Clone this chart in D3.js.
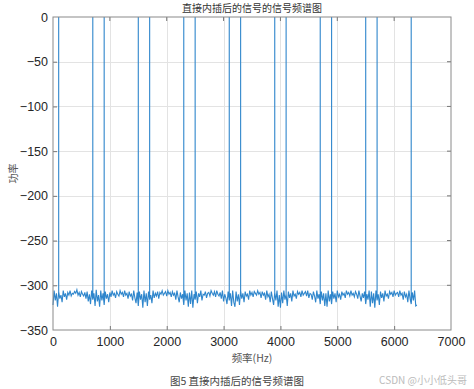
<!DOCTYPE html>
<html>
<head>
<meta charset="utf-8">
<script src="https://cdn.jsdelivr.net/npm/d3@7"></script>
<style>
  body { margin: 0; background: #fff; }
  svg { display: block; }
</style>
</head>
<body>
<svg id="chart" width="474" height="389"></svg>
<script>
"use strict";

// noise floor, one value every 20 Hz from 0 to 6400 Hz
var floorStep = 20;
var floorDb = [
  -322, -306, -317, -309, -324, -307, -315, -311, -319, -306, -313, -309, -316, -308, -311, -306, -312, -309, -310, -307,
  -309, -305, -311, -308, -313, -307, -310, -312, -308, -315, -307, -318, -310, -321, -306, -316, -309, -323, -305, -318,
  -311, -324, -306, -317, -309, -322, -307, -315, -310, -319, -308, -313, -306, -311, -309, -314, -307, -310, -312, -306,
  -310, -308, -313, -306, -311, -309, -315, -307, -312, -310, -317, -306, -314, -320, -308, -323, -307, -316, -310, -325,
  -306, -319, -309, -323, -307, -316, -311, -320, -306, -314, -309, -312, -307, -315, -308, -310, -306, -311, -309, -307,
  -312, -306, -310, -308, -313, -307, -311, -309, -316, -306, -313, -319, -308, -315, -310, -322, -306, -317, -309, -324,
  -308, -321, -306, -325, -310, -316, -307, -320, -309, -313, -306, -317, -310, -311, -307, -314, -309, -308, -312, -306,
  -309, -311, -307, -313, -306, -310, -312, -308, -315, -306, -318, -310, -314, -321, -307, -317, -309, -323, -306, -319,
  -324, -307, -318, -310, -322, -306, -315, -309, -319, -307, -312, -310, -316, -306, -311, -308, -313, -307, -309, -311,
  -306, -310, -308, -314, -307, -311, -309, -316, -306, -313, -310, -319, -307, -315, -322, -308, -317, -306, -324, -311,
  -325, -308, -320, -306, -316, -310, -323, -307, -314, -309, -318, -306, -312, -310, -315, -307, -310, -308, -313, -306,
  -311, -309, -307, -312, -306, -314, -309, -310, -316, -307, -312, -319, -306, -315, -310, -321, -307, -317, -309, -323,
  -309, -324, -306, -318, -310, -321, -307, -315, -309, -319, -306, -313, -310, -316, -307, -311, -309, -314, -306, -310,
  -308, -312, -306, -311, -309, -313, -307, -310, -315, -306, -312, -318, -309, -314, -307, -321, -310, -316, -306, -324,
  -307, -320, -309, -325, -306, -317, -310, -322, -307, -314, -309, -318, -306, -312, -310, -315, -307, -310, -308, -313,
  -306, -311, -309, -308, -313, -306, -311, -309, -316, -307, -313, -310, -319, -306, -315, -321, -308, -317, -306, -323,
  -322
];

// spectral lines (Hz), all reach 0
var peakFreqs = [100, 700, 900, 1500, 1700, 2300, 2500, 3100, 3300, 3900, 4100, 4700, 4900, 5500, 5700, 6300];
var peakDb = 0;

var xTicks = [0, 1000, 2000, 3000, 4000, 5000, 6000, 7000];
var yTicks = [0, -50, -100, -150, -200, -250, -300, -350];

var titleText = "直接内插后的信号的信号频谱图";
var xLabel = "频率(Hz)";
var yLabel = "功率";
var captionText = "图5 直接内插后的信号频谱图";
var watermark = "CSDN @小小低头哥";

var margin = {left: 53, right: 23, top: 17, bottom: 59};
var W = 474, H = 389;

var svg = d3.select("#chart");

var x = d3.scaleLinear().domain([0, 7000]).range([margin.left, W - margin.right]);
var y = d3.scaleLinear().domain([-350, 0]).range([H - margin.bottom, margin.top]);

// build the trace: floor points plus a vertical spike at each line
var pts = floorDb.map(function(v, i) { return [i * floorStep, v, 0]; });
peakFreqs.forEach(function(f) {
  var i = Math.floor(f / floorStep);
  var base = (f % floorStep === 0) ? floorDb[i] : (floorDb[i] + floorDb[i + 1]) / 2;
  if (f % floorStep !== 0) pts.push([f, base, 0]);
  pts.push([f, peakDb, 1], [f, base, 2]);
});
pts.sort(function(a, b) { return a[0] - b[0] || a[2] - b[2]; });

// grid
var grid = svg.append("g").attr("class", "grid")
  .style("stroke", "#e3e3e3").style("stroke-width", "1px");
grid.selectAll(".gx").data(xTicks.slice(1, -1)).enter().append("line")
  .attr("x1", function(d) { return Math.round(x(d)) + 0.5; })
  .attr("x2", function(d) { return Math.round(x(d)) + 0.5; })
  .attr("y1", y(0)).attr("y2", y(-350));
grid.selectAll(".gy").data(yTicks.slice(1, -1)).enter().append("line")
  .attr("y1", function(d) { return Math.round(y(d)) + 0.5; })
  .attr("y2", function(d) { return Math.round(y(d)) + 0.5; })
  .attr("x1", x(0)).attr("x2", x(7000));

// trace
var line = d3.line()
  .x(function(d) { return x(d[0]); })
  .y(function(d) { return y(d[1]); });

svg.append("path")
  .datum(pts)
  .attr("d", line)
  .style("fill", "none")
  .style("stroke", "#2f86cc")
  .style("stroke-width", "1.1px")
  .style("stroke-linejoin", "miter");

// axes (MATLAB style, inward ticks, box)
var xAxis = d3.axisBottom(x).tickValues(xTicks).tickFormat(d3.format("d"))
  .tickSizeInner(-4).tickSizeOuter(0).tickPadding(7);
var yAxis = d3.axisLeft(y).tickValues(yTicks).tickFormat(d3.format("d"))
  .tickSizeInner(-4).tickSizeOuter(0).tickPadding(5);

var gx = svg.append("g").attr("transform", "translate(0," + y(-350) + ")").call(xAxis);
var gy = svg.append("g").attr("transform", "translate(" + x(0) + ",0)").call(yAxis);
[gx, gy].forEach(function(g) {
  g.select(".domain").remove();
  g.selectAll(".tick line").style("stroke", "#777");
  g.selectAll("text")
    .style("font-family", "'Liberation Sans', Arial, sans-serif")
    .style("font-size", "12.5px")
    .style("fill", "#262626");
});
gx.selectAll(".tick").filter(function(d) { return d === 0 || d === 7000; }).select("line").remove();
gy.selectAll(".tick").filter(function(d) { return d === 0 || d === -350; }).select("line").remove();

// top ticks / right ticks
svg.append("g").selectAll("line").data(xTicks.slice(1, -1)).enter().append("line")
  .attr("x1", function(d) { return x(d); }).attr("x2", function(d) { return x(d); })
  .attr("y1", y(0)).attr("y2", y(0) + 4).style("stroke", "#777");
svg.append("g").selectAll("line").data(yTicks.slice(1, -1)).enter().append("line")
  .attr("y1", function(d) { return y(d); }).attr("y2", function(d) { return y(d); })
  .attr("x1", x(7000)).attr("x2", x(7000) - 4).style("stroke", "#777");

svg.append("rect")
  .attr("x", x(0)).attr("y", y(0))
  .attr("width", x(7000) - x(0)).attr("height", y(-350) - y(0))
  .style("fill", "none").style("stroke", "#8a8a8a").style("stroke-width", "1px");

var cjk = "'Noto Sans CJK SC', 'Noto Sans', sans-serif";

svg.append("text")
  .attr("x", (x(0) + x(7000)) / 2).attr("y", 12)
  .attr("text-anchor", "middle")
  .style("font-family", cjk).style("font-size", "10px").style("fill", "#333")
  .text(titleText);

svg.append("text")
  .attr("x", (x(0) + x(7000)) / 2).attr("y", 362)
  .attr("text-anchor", "middle")
  .style("font-family", cjk).style("font-size", "10.5px").style("fill", "#555")
  .text(xLabel);

svg.append("text")
  .attr("transform", "translate(17," + (y(0) + y(-350)) / 2 + ") rotate(-90)")
  .attr("text-anchor", "middle")
  .style("font-family", cjk).style("font-size", "10px").style("fill", "#555")
  .text(yLabel);

svg.append("text")
  .attr("x", 237).attr("y", 385)
  .attr("text-anchor", "middle")
  .style("font-family", cjk).style("font-size", "10.5px").style("fill", "#444")
  .text(captionText);

svg.append("text")
  .attr("x", 467).attr("y", 384)
  .attr("text-anchor", "end")
  .style("font-family", cjk).style("font-size", "10px").style("fill", "#bbb")
  .text(watermark);
</script>
</body>
</html>
